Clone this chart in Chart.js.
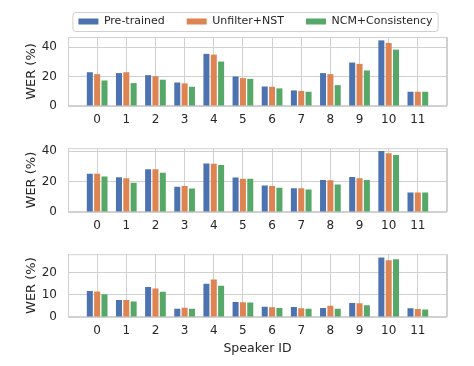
<!DOCTYPE html>
<html>
<head>
<meta charset="utf-8">
<script src="https://cdn.jsdelivr.net/npm/chart.js@4"></script>
<style>
  body { margin: 0; background: #fff; }
  #wrap { position: relative; width: 474px; height: 366px; }
  canvas { position: absolute; left: 0; }
</style>
</head>
<body>
<div id="wrap">
  <canvas id="c1" width="474" height="130" style="top:0"></canvas>
  <canvas id="c2" width="474" height="106" style="top:130px"></canvas>
  <canvas id="c3" width="474" height="130" style="top:236px"></canvas>
</div>
<script>
const speakers = [0, 1, 2, 3, 4, 5, 6, 7, 8, 9, 10, 11];
const seriesNames = ['Pre-trained', 'Unfilter+NST', 'NCM+Consistency'];
const colors = ['#4c72b0', '#dd8452', '#55a868'];

// top panel
const pre1 = [23.0, 22.4, 21.0, 16.0, 35.5, 20.1, 13.3, 10.6, 22.4, 29.6, 44.7, 9.7];
const unf1 = [21.7, 23.0, 20.3, 15.4, 35.0, 19.0, 13.1, 10.2, 21.7, 28.7, 42.9, 9.7];
const ncm1 = [17.4, 15.6, 17.9, 13.1, 30.3, 18.5, 12.0, 9.7, 14.2, 24.2, 38.4, 9.7];

// middle panel
const pre2 = [25.2, 22.9, 28.2, 16.6, 31.9, 22.7, 17.5, 15.6, 21.1, 23.1, 40.2, 12.8];
const unf2 = [25.2, 22.3, 28.2, 17.1, 31.7, 21.9, 17.1, 15.6, 20.9, 22.3, 38.6, 12.8];
const ncm2 = [23.4, 19.3, 25.8, 15.4, 30.9, 21.9, 16.0, 14.8, 18.1, 21.1, 37.6, 12.8];

// bottom panel
const pre3 = [11.8, 7.7, 13.6, 3.7, 15.1, 6.8, 4.7, 4.5, 4.1, 6.4, 27.0, 4.0];
const unf3 = [11.6, 7.7, 12.9, 4.2, 17.0, 6.7, 4.4, 4.0, 5.1, 6.2, 25.8, 3.6];
const ncm3 = [10.3, 7.0, 11.5, 3.8, 14.2, 6.6, 4.1, 3.7, 3.7, 5.3, 26.2, 3.4];

const yMax = [47, 42, 28.5];
const yStep = [20, 20, 10];

Chart.defaults.font.family = 'DejaVu Sans';
Chart.defaults.color = '#262626';
Chart.defaults.animation = false;

const gridColor = '#d0d0d0';

const frame = {
  id: 'frame',
  beforeDatasetsDraw(chart) {
    const a = chart.chartArea, ctx = chart.ctx;
    ctx.save();
    ctx.strokeStyle = gridColor;
    ctx.lineWidth = 1;
    ctx.strokeRect(a.left + 0.5, a.top + 0.5, a.right - a.left - 1, a.bottom - a.top - 1);
    ctx.restore();
  }
};

// centre the legend over the plot and box it in
const legendBox = {
  id: 'legendBox',
  afterUpdate(chart) {
    const lg = chart.legend;
    if (!lg || !lg.options.display || !lg.legendHitBoxes.length) return;
    const hb = lg.legendHitBoxes;
    const l = Math.min(...hb.map(h => h.left));
    const r = Math.max(...hb.map(h => h.left + h.width));
    const dx = 255.5 - (l + r) / 2;
    const dy = 21.5 - (hb[0].top + hb[0].height / 2);
    lg.left += dx; lg.right += dx;
    lg.top += dy; lg.bottom += dy;
    hb.forEach(h => { h.left += dx; h.top += dy; });
  },
  afterDraw(chart) {
    const lg = chart.legend;
    if (!lg || !lg.options.display) return;
    const hb = lg.legendHitBoxes;
    const l = Math.min(...hb.map(h => h.left)) - 6;
    const r = Math.max(...hb.map(h => h.left + h.width)) + 5;
    const ctx = chart.ctx;
    ctx.save();
    ctx.strokeStyle = gridColor;
    ctx.lineWidth = 1;
    ctx.beginPath();
    ctx.roundRect(l + 0.5, 12.5, r - l, 19, 3);
    ctx.stroke();
    ctx.restore();
  }
};

function panel(id, pre, unf, ncm, idx, opts) {
  const vals = [pre, unf, ncm];
  return new Chart(document.getElementById(id), {
    type: 'bar',
    data: {
      datasets: vals.map((v, i) => ({
        label: seriesNames[i],
        data: speakers.map((s, j) => ({ x: s, y: v[j] })),
        backgroundColor: colors[i],
        borderWidth: 0,
        categoryPercentage: 0.755,
        barPercentage: 0.82
      }))
    },
    options: {
      responsive: false,
      layout: { padding: { top: opts.top, right: 27, left: 0, bottom: 0 } },
      plugins: {
        legend: {
          display: !!opts.legend,
          maxHeight: 37,
          labels: { boxWidth: 20, boxHeight: 6, padding: 22, font: { size: 11 } }
        },
        tooltip: { enabled: false }
      },
      scales: {
        x: {
          type: 'linear',
          min: -1, max: 12,
          offset: false,
          grid: { color: gridColor, drawTicks: false, offset: false },
          border: { display: false },
          ticks: {
            stepSize: 1, autoSkip: false, maxRotation: 0, padding: 7,
            font: { size: 12 },
            callback: v => (v < 0 || v > 11) ? '' : v
          },
          title: {
            display: !!opts.xTitle, text: 'Speaker ID',
            font: { size: 12.5 }, padding: { top: 0, bottom: 10 }
          },
          afterFit: s => { s.height = opts.xh; }
        },
        y: {
          min: 0, max: yMax[idx],
          grid: { color: gridColor, drawTicks: false },
          border: { display: false },
          ticks: { stepSize: yStep[idx], includeBounds: false, padding: 11, font: { size: 12 } },
          title: {
            display: true, text: 'WER (%)',
            font: { size: 13 }, padding: { top: 24, bottom: 0 }
          },
          afterFit: s => { s.width = 68; }
        }
      }
    },
    plugins: [frame, legendBox]
  });
}

panel('c1', pre1, unf1, ncm1, 0, { top: 0, xh: 24, legend: true });
panel('c2', pre2, unf2, ncm2, 1, { top: 12, xh: 24 });
panel('c3', pre3, unf3, ncm3, 2, { top: 11, xh: 49, xTitle: true });
</script>
</body>
</html>
